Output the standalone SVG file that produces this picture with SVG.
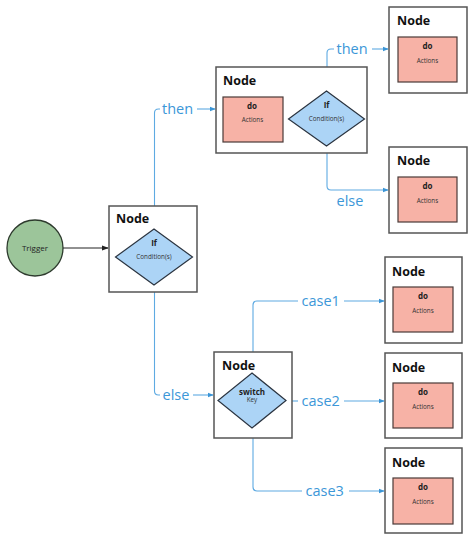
<svg xmlns="http://www.w3.org/2000/svg" width="474" height="539" viewBox="0 0 474 539">
<defs>
<marker id="ab" viewBox="0 0 8 8" refX="7" refY="4" markerWidth="6" markerHeight="6" orient="auto" markerUnits="userSpaceOnUse"><path d="M0,1 L8,4 L0,7 Z" fill="#3b95d6"/></marker>
<marker id="ak" viewBox="0 0 8 8" refX="7" refY="4" markerWidth="7" markerHeight="7" orient="auto" markerUnits="userSpaceOnUse"><path d="M0,1 L8,4 L0,7 Z" fill="#222"/></marker>
</defs>
<style>
text{font-family:"Open Sans","Liberation Sans",sans-serif;}
.box{fill:#fff;stroke:#555;stroke-width:1.5;}
.do{fill:#f7b2a6;stroke:#4a3a38;stroke-width:1.2;}
.dia{fill:#acd4f6;stroke:#2b3440;stroke-width:1.2;}
.nt{font-size:12.5px;font-weight:bold;fill:#111;}
.b{font-size:8px;font-weight:bold;fill:#222;text-anchor:middle;}
.s{font-size:6.3px;fill:#333;text-anchor:middle;}
.ln{fill:none;stroke:#5eaae2;stroke-width:1.1;}
.lb{font-size:14.5px;fill:#3c97d8;}
</style>
<g id="connectors">
<path d="M63,248 H108" fill="none" stroke="#222" stroke-width="1" marker-end="url(#ak)"/>
<path class="ln" d="M154.5,229 V113 Q154.5,109 158.5,109 H160"/>
<path class="ln" d="M197,109 H215" marker-end="url(#ab)"/>
<text class="lb" x="162" y="114">then</text>
<path class="ln" d="M154.5,285 V391 Q154.5,395 158.5,395 H160"/>
<path class="ln" d="M193,395 H213" marker-end="url(#ab)"/>
<text class="lb" x="162.5" y="400">else</text>
<path class="ln" d="M327,91 V53 Q327,49 331,49 H334"/>
<path class="ln" d="M372,49 H388" marker-end="url(#ab)"/>
<text class="lb" x="336.5" y="54">then</text>
<path class="ln" d="M327,146 V186 Q327,190 331,190 H388" marker-end="url(#ab)"/>
<text class="lb" x="336.5" y="206">else</text>
<path class="ln" d="M253,352 V305 Q253,301 257,301 H298"/>
<path class="ln" d="M344,301 H384" marker-end="url(#ab)"/>
<text class="lb" x="301.5" y="306">case1</text>
<path class="ln" d="M286,401 H298"/>
<path class="ln" d="M344,401 H384" marker-end="url(#ab)"/>
<text class="lb" x="301.5" y="406">case2</text>
<path class="ln" d="M253,438 V487 Q253,491 257,491 H302"/>
<path class="ln" d="M349,491 H384" marker-end="url(#ab)"/>
<text class="lb" x="305.5" y="496">case3</text>
</g>
<g id="trigger">
<circle cx="35" cy="248" r="28" fill="#9cc59a" stroke="#2d3a2d" stroke-width="1.3"/>
<text x="35" y="251" font-size="8px" fill="#222" text-anchor="middle">Trigger</text>
</g>
<g id="node-if1">
<rect class="box" x="109" y="206" width="88" height="86"/>
<text class="nt" x="116" y="223">Node</text>
<path class="dia" d="M154,229 L192.5,257 L154,285 L115.5,257 Z"/>
<text class="b" x="154" y="246">If</text>
<text class="s" x="154" y="259">Condition(s)</text>
</g>
<g id="node-if2">
<rect class="box" x="216" y="67" width="151" height="86"/>
<text class="nt" x="223" y="85">Node</text>
<rect class="do" x="223" y="97" width="60" height="45"/>
<text class="b" x="252" y="108.5">do</text>
<text class="s" x="252.5" y="122">Actions</text>
<path class="dia" d="M326.5,91 L364.5,119 L326.5,146 L288.5,119 Z"/>
<text class="b" x="326.5" y="108">If</text>
<text class="s" x="326.5" y="121">Condition(s)</text>
</g>
<g id="node-then">
<rect class="box" x="389" y="7" width="78" height="86"/>
<text class="nt" x="397" y="25">Node</text>
<rect class="do" x="398" y="37" width="59" height="45"/>
<text class="b" x="427.5" y="49">do</text>
<text class="s" x="427.5" y="62.5">Actions</text>
</g>
<g id="node-else">
<rect class="box" x="389" y="147" width="78" height="86"/>
<text class="nt" x="397" y="165">Node</text>
<rect class="do" x="398" y="177" width="59" height="45"/>
<text class="b" x="427.5" y="189">do</text>
<text class="s" x="427.5" y="202.5">Actions</text>
</g>
<g id="node-switch">
<rect class="box" x="214" y="352" width="78" height="86"/>
<text class="nt" x="222" y="370">Node</text>
<path class="dia" d="M252,373 L286,400.5 L252,428 L218,400.5 Z"/>
<text class="b" x="252" y="394.5" font-size="8.5px">switch</text>
<text class="s" x="252" y="402" font-size="6px">Key</text>
</g>
<g id="node-case1">
<rect class="box" x="385" y="257" width="77" height="86"/>
<text class="nt" x="392" y="276">Node</text>
<rect class="do" x="393" y="287" width="60" height="45"/>
<text class="b" x="423" y="299">do</text>
<text class="s" x="423" y="312.5">Actions</text>
</g>
<g id="node-case2">
<rect class="box" x="385" y="353" width="77" height="85"/>
<text class="nt" x="392" y="372">Node</text>
<rect class="do" x="393" y="383" width="60" height="45"/>
<text class="b" x="423" y="395">do</text>
<text class="s" x="423" y="408.5">Actions</text>
</g>
<g id="node-case3">
<rect class="box" x="385" y="448" width="77" height="85"/>
<text class="nt" x="392" y="467">Node</text>
<rect class="do" x="393" y="478" width="60" height="46"/>
<text class="b" x="423" y="490">do</text>
<text class="s" x="423" y="503.5">Actions</text>
</g>
</svg>
